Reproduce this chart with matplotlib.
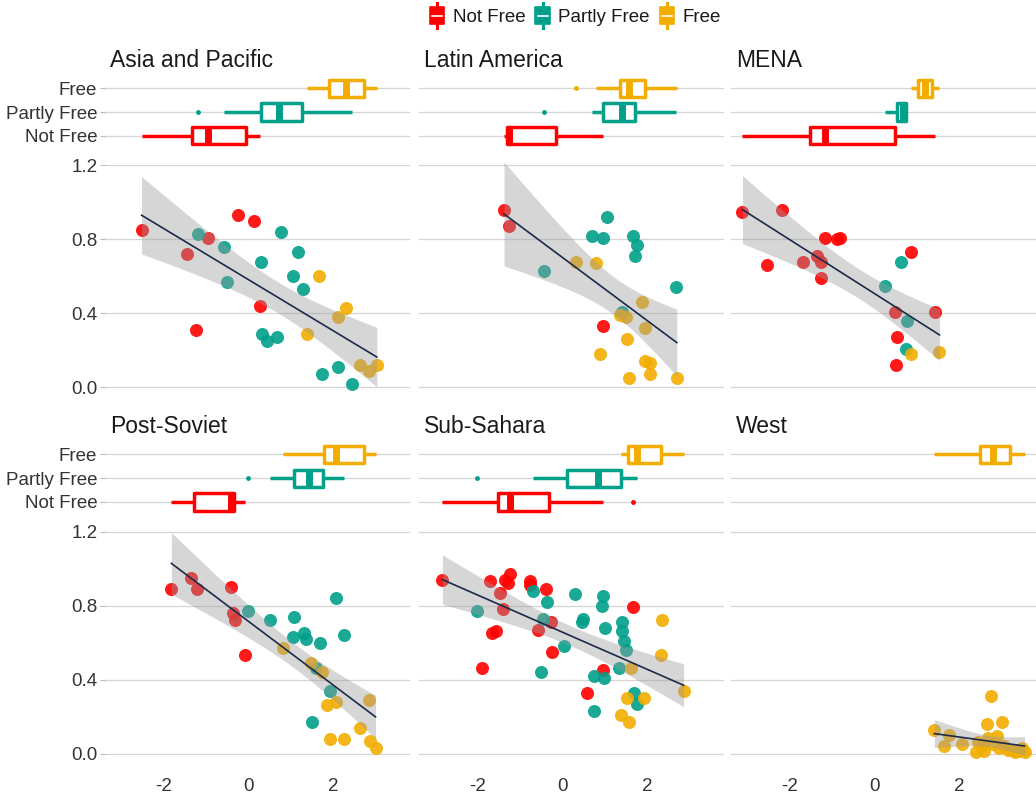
import matplotlib
matplotlib.use("Agg")
import matplotlib.pyplot as plt
import numpy as np
from matplotlib.legend_handler import HandlerBase
from matplotlib.patches import Rectangle, Patch
from matplotlib.lines import Line2D

plt.rcParams['font.family'] = ['Liberation Sans', 'DejaVu Sans']
plt.rcParams['axes.unicode_minus'] = False

status_labels = ["Not Free", "Partly Free", "Free"]
status_colors = ["#FF0000", "#00A08A", "#F2AD00"]
box_rows = [1.36, 1.488, 1.617]
y_ticks = [0.0, 0.4, 0.8, 1.2]
x_ticks = [-2, 0, 2]

# (x, y) points per region and status
asia_nf = [(-2.51, 0.85), (-0.24, 0.93), (0.13, 0.90), (-0.96, 0.81), (-1.45, 0.72),
           (0.28, 0.44), (-1.22, 0.31)]
asia_pf = [(-1.18, 0.83), (-0.58, 0.76), (-0.50, 0.57), (0.76, 0.84), (1.16, 0.73),
           (0.29, 0.68), (1.06, 0.60), (1.29, 0.53), (0.33, 0.29), (0.44, 0.25),
           (0.67, 0.27), (1.74, 0.07), (2.10, 0.11), (2.43, 0.02)]
asia_f = [(1.67, 0.60), (2.30, 0.43), (2.10, 0.38), (1.39, 0.29), (2.63, 0.12),
          (2.83, 0.09), (3.02, 0.12)]

latam_nf = [(-1.37, 0.96), (-1.25, 0.87), (0.96, 0.33)]
latam_pf = [(-0.42, 0.63), (1.05, 0.92), (0.70, 0.82), (0.96, 0.81), (1.65, 0.82),
            (1.75, 0.77), (1.70, 0.71), (2.68, 0.54), (1.41, 0.41)]
latam_f = [(0.31, 0.68), (0.80, 0.67), (1.87, 0.46), (1.36, 0.39), (1.50, 0.38),
           (1.94, 0.32), (1.51, 0.26), (0.88, 0.18), (1.95, 0.14), (2.06, 0.13),
           (2.06, 0.07), (1.57, 0.05), (2.69, 0.05)]

mena_nf = [(-3.10, 0.95), (-2.17, 0.96), (-2.53, 0.66), (-1.16, 0.81), (-0.87, 0.80),
           (-0.80, 0.81), (-1.68, 0.68), (-1.36, 0.71), (-1.25, 0.68), (-1.25, 0.59),
           (0.87, 0.73), (0.48, 0.41), (1.43, 0.41), (0.54, 0.27), (0.51, 0.12)]
mena_pf = [(0.62, 0.68), (0.24, 0.55), (0.77, 0.36), (0.75, 0.21)]
mena_f = [(0.87, 0.18), (1.53, 0.19)]

postsov_nf = [(-1.81, 0.89), (-1.36, 0.95), (-1.20, 0.89), (-0.40, 0.90), (-0.35, 0.76),
              (-0.31, 0.72), (-0.07, 0.53)]
postsov_pf = [(0.00, 0.77), (0.50, 0.72), (1.08, 0.74), (1.04, 0.63), (1.30, 0.65),
              (1.35, 0.62), (1.69, 0.60), (2.05, 0.84), (2.24, 0.64), (1.60, 0.46),
              (1.91, 0.34), (1.49, 0.17)]
postsov_f = [(0.82, 0.57), (1.47, 0.49), (1.72, 0.44), (1.85, 0.26), (2.05, 0.28),
             (2.83, 0.29), (1.93, 0.08), (2.25, 0.08), (2.63, 0.14), (2.85, 0.07),
             (2.99, 0.03)]

subsah_nf = [(-2.82, 0.94), (-1.71, 0.93), (-1.36, 0.94), (-1.23, 0.97), (-1.27, 0.92),
             (-0.77, 0.93), (-0.77, 0.91), (-0.38, 0.89), (-1.47, 0.87), (-1.40, 0.78),
             (-0.27, 0.71), (-0.58, 0.67), (-1.65, 0.65), (-1.55, 0.66), (-0.25, 0.55),
             (-1.90, 0.46), (0.96, 0.45), (0.58, 0.33), (1.65, 0.79)]
subsah_pf = [(-2.00, 0.77), (-0.68, 0.88), (-0.36, 0.82), (-0.46, 0.73), (0.30, 0.86),
             (0.96, 0.85), (0.94, 0.80), (0.49, 0.73), (0.46, 0.71), (1.00, 0.68),
             (1.40, 0.71), (1.40, 0.66), (1.46, 0.61), (1.50, 0.56), (0.04, 0.58),
             (1.34, 0.46), (-0.51, 0.44), (0.74, 0.42), (0.98, 0.41), (1.69, 0.33),
             (1.76, 0.27), (0.75, 0.23)]
subsah_f = [(2.35, 0.72), (2.31, 0.53), (1.62, 0.46), (2.85, 0.34), (1.53, 0.30),
            (1.91, 0.30), (1.39, 0.21), (1.56, 0.17)]

west_nf = []
west_pf = []
west_f = [(2.74, 0.31), (2.64, 0.16), (3.01, 0.17), (1.41, 0.13), (1.76, 0.10),
          (1.64, 0.04), (2.05, 0.05), (2.43, 0.06), (2.68, 0.085), (2.89, 0.095),
          (2.38, 0.01), (2.58, 0.015), (2.52, 0.04), (2.92, 0.03), (3.15, 0.02),
          (3.39, 0.015), (3.53, 0.01), (3.47, 0.03), (3.04, 0.04), (2.80, 0.05),
          (3.25, 0.02), (3.30, 0.01), (3.50, 0.02)]

region_names = ["Asia and Pacific", "Latin America", "MENA",
                "Post-Soviet", "Sub-Sahara", "West"]
region_groups = [(asia_nf, asia_pf, asia_f), (latam_nf, latam_pf, latam_f),
                 (mena_nf, mena_pf, mena_f), (postsov_nf, postsov_pf, postsov_f),
                 (subsah_nf, subsah_pf, subsah_f), (west_nf, west_pf, west_f)]


def t975(df):
    z = 1.959964
    return (z + (z**3 + z) / (4 * df) + (5 * z**5 + 16 * z**3 + 3 * z) / (96 * df**2)
            + (3 * z**7 + 19 * z**5 + 17 * z**3 - 15 * z) / (384 * df**3))


class BoxKey(HandlerBase):
    def create_artists(self, legend, orig, xd, yd, w, h, fs, trans):
        c = orig.get_facecolor()
        x0, y0 = -xd, -yd
        cx = x0 + w / 2
        bw = w * 0.9
        stub = Line2D([cx, cx], [y0 - 0.3 * h, y0 + 1.3 * h], color=c, lw=2.2, transform=trans)
        box = Rectangle((cx - bw / 2, y0 - 0.05 * h), bw, h * 1.1, facecolor=c,
                        edgecolor=c, lw=1.2, joinstyle='round', transform=trans)
        med = Line2D([cx - bw / 2 + 1.5, cx + bw / 2 - 1.5], [y0 + h / 2, y0 + h / 2],
                     color='white', lw=1.2, transform=trans)
        return [stub, box, med]


W, H = 1036, 806
fig = plt.figure(figsize=(W / 100, H / 100), dpi=100)

col_left = [105, 419, 731]
panel_w = 305
row_top = [74.7, 440.9]
row_bot = [400.3, 766.5]
xlim = (-3.37, 3.80)
ylim = (-0.07, 1.69)

for i, (name, groups) in enumerate(zip(region_names, region_groups)):
    r, c = divmod(i, 3)
    ax = fig.add_axes([col_left[c] / W, 1 - row_bot[r] / H, panel_w / W,
                       (row_bot[r] - row_top[r]) / H])
    allx, ally = [], []
    for k, pts in enumerate(groups):
        if not pts:
            continue
        xs = np.array([p[0] for p in pts])
        ys = np.array([p[1] for p in pts])
        col = status_colors[k]
        ax.scatter(xs, ys, s=88, color=col, alpha=0.9, linewidths=0, zorder=2)
        ax.boxplot(xs, positions=[box_rows[k]], orientation='horizontal', widths=0.094,
                   patch_artist=True, showcaps=False, manage_ticks=False,
                   boxprops=dict(facecolor='white', edgecolor=col, linewidth=2.5,
                                 joinstyle='round'),
                   medianprops=dict(color=col, linewidth=5.0, solid_capstyle='butt'),
                   whiskerprops=dict(color=col, linewidth=2.5, solid_capstyle='butt'),
                   flierprops=dict(marker='o', markersize=3.5, markerfacecolor=col,
                                   markeredgecolor='none'),
                   zorder=3)
        allx.extend(xs)
        ally.extend(ys)

    # linear fit with 95% confidence band
    allx = np.array(allx)
    ally = np.array(ally)
    n = len(allx)
    slope, icpt = np.polyfit(allx, ally, 1)
    resid = ally - (slope * allx + icpt)
    s = np.sqrt(np.sum(resid**2) / (n - 2))
    sxx = np.sum((allx - allx.mean())**2)
    xg = np.linspace(allx.min(), allx.max(), 80)
    yg = slope * xg + icpt
    se = s * np.sqrt(1 / n + (xg - allx.mean())**2 / sxx)
    tq = t975(n - 2)
    ax.fill_between(xg, yg - tq * se, yg + tq * se, color='#999999', alpha=0.4,
                    linewidth=0, zorder=4)
    ax.plot(xg, yg, color='#1C2B4A', lw=1.2, zorder=5)

    ax.set_xlim(*xlim)
    ax.set_ylim(*ylim)
    ax.set_yticks(y_ticks + box_rows)
    ax.set_xticks(x_ticks)
    ax.grid(axis='y', color='#D5D5D5', lw=0.9)
    ax.grid(axis='x', visible=False)
    ax.set_axisbelow(True)
    for sp in ax.spines.values():
        sp.set_visible(False)
    if c == 0:
        ax.set_yticklabels([f"{v:.1f}" for v in y_ticks] + status_labels)
        ax.tick_params(axis='y', length=3.5, width=0.8, color='#BBBBBB', pad=2,
                       labelsize=13.5, labelcolor='#333333')
    else:
        ax.tick_params(axis='y', length=0, labelleft=False)
    if r == 1:
        ax.tick_params(axis='x', length=0, pad=8, labelsize=13.5, labelcolor='#333333')
    else:
        ax.tick_params(axis='x', length=0, labelbottom=False)
    fig.text((col_left[c] + 5) / W, 1 - (row_top[r] - 14) / H, name, fontsize=16.5,
             color='#1A1A1A', ha='left', va='center')

handles = [Patch(facecolor=col) for col in status_colors]
fig.legend(handles, status_labels, handler_map={Patch: BoxKey()}, loc='center',
           bbox_to_anchor=(575 / W, 1 - 17 / H), ncol=3, frameon=False, fontsize=13.5,
           handlelength=0.85, handleheight=0.9, handletextpad=0.4, columnspacing=0.5,
           labelcolor='#1A1A1A')

fig.savefig("out.png", dpi=100)
